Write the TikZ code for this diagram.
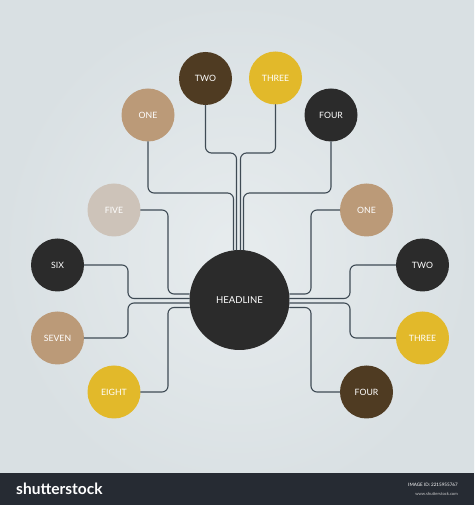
\documentclass[tikz,border=0pt]{standalone}
\usepackage{fontspec}
\setmainfont{Lato}
\usepackage{tikz}
\definecolor{tan}{HTML}{BB9A78}
\definecolor{cocoa}{HTML}{4F3B22}
\definecolor{mustard}{HTML}{E2B92A}
\definecolor{coal}{HTML}{2B2B2B}
\definecolor{sand}{HTML}{CDC3B9}
\definecolor{wire}{HTML}{3F4B55}
\definecolor{bar}{HTML}{262B33}
\definecolor{bgin}{HTML}{E7ECEE}
\definecolor{bgout}{HTML}{D9E0E3}
\begin{document}
\begin{tikzpicture}[line cap=round,line join=round,x=1pt,y=1pt,
  bubble/.style={circle,minimum size=53pt,inner sep=0pt,text=white,font=\fontsize{8.7}{10}\selectfont},
  hub/.style={circle,fill=coal,minimum size=100pt,inner sep=0pt,text=white,font=\fontsize{9.5}{11}\selectfont},
  link/.style={draw=wire,line width=1.1pt,rounded corners=6pt}]
\useasboundingbox (0,0) rectangle (474,505);
\fill [inner color=bgin, outer color=bgout] (0,0) rectangle (474,505);
%\clip (0,0) rectangle (474,505);
\node [hub] (head) at (239.5,205) {HEADLINE};
% top
\node [bubble,fill=tan] (one) at (148,390) {ONE};
\node [bubble,fill=cocoa] (two) at (205.5,426.5) {TWO};
\node [bubble,fill=mustard] (three) at (275.5,427) {THREE};
\node [bubble,fill=coal] (four) at (331,390) {FOUR};
% left
\node [bubble,fill=sand] (five) at (114,295) {FIVE};
\node [bubble,fill=coal] (six) at (57.5,240) {SIX};
\node [bubble,fill=tan] (seven) at (57.5,167) {SEVEN};
\node [bubble,fill=mustard] (eight) at (114,113) {EIGHT};
% right
\node [bubble,fill=tan] (rone) at (366.5,295) {ONE};
\node [bubble,fill=coal] (rtwo) at (422.5,240) {TWO};
\node [bubble,fill=mustard] (rthree) at (422.5,167) {THREE};
\node [bubble,fill=cocoa] (rfour) at (366.5,113) {FOUR};
% bends
\coordinate (j1) at (233.5,312);
\coordinate (j2) at (236.5,352);
\coordinate (j3) at (240.5,352);
\coordinate (j4) at (243.5,312);
\coordinate (k5) at (168,211);
\coordinate (k6) at (128,206.5);
\coordinate (k7) at (128,202);
\coordinate (k8) at (168,197.5);
\coordinate (m1) at (311,211);
\coordinate (m2) at (350,206.5);
\coordinate (m3) at (350,202);
\coordinate (m4) at (311,197.5);
\draw [link] (one.south) |- (j1) -- (j1 |- head.north);
\draw [link] (two.south) |- (j2) -- (j2 |- head.north);
\draw [link] (three.south) |- (j3) -- (j3 |- head.north);
\draw [link] (four.south) |- (j4) -- (j4 |- head.north);
\draw [link] (five.east) -| (k5) -- (k5 -| head.west);
\draw [link] (six.east) -| (k6) -- (k6 -| head.west);
\draw [link] (seven.east) -| (k7) -- (k7 -| head.west);
\draw [link] (eight.east) -| (k8) -- (k8 -| head.west);
\draw [link] (rone.west) -| (m1) -- (m1 -| head.east);
\draw [link] (rtwo.west) -| (m2) -- (m2 -| head.east);
\draw [link] (rthree.west) -| (m3) -- (m3 -| head.east);
\draw [link] (rfour.west) -| (m4) -- (m4 -| head.east);
% stock bar
\fill [color=bar] (0,0) rectangle (474,31.7);
\node [anchor=west,text=white,font=\fontsize{15.5}{16}\selectfont\bfseries,inner sep=0pt] (brand) at (16,16) {shutterstock};
\node [anchor=east,text=white,font=\fontsize{4.6}{5}\selectfont,inner sep=0pt] (imgid) at (458,20) {IMAGE ID: 2215955767};
\node [anchor=east,text=white!80!black,font=\fontsize{4.2}{5}\selectfont,inner sep=0pt] (site) at (458,11) {www.shutterstock.com};
\end{tikzpicture}
\end{document}
